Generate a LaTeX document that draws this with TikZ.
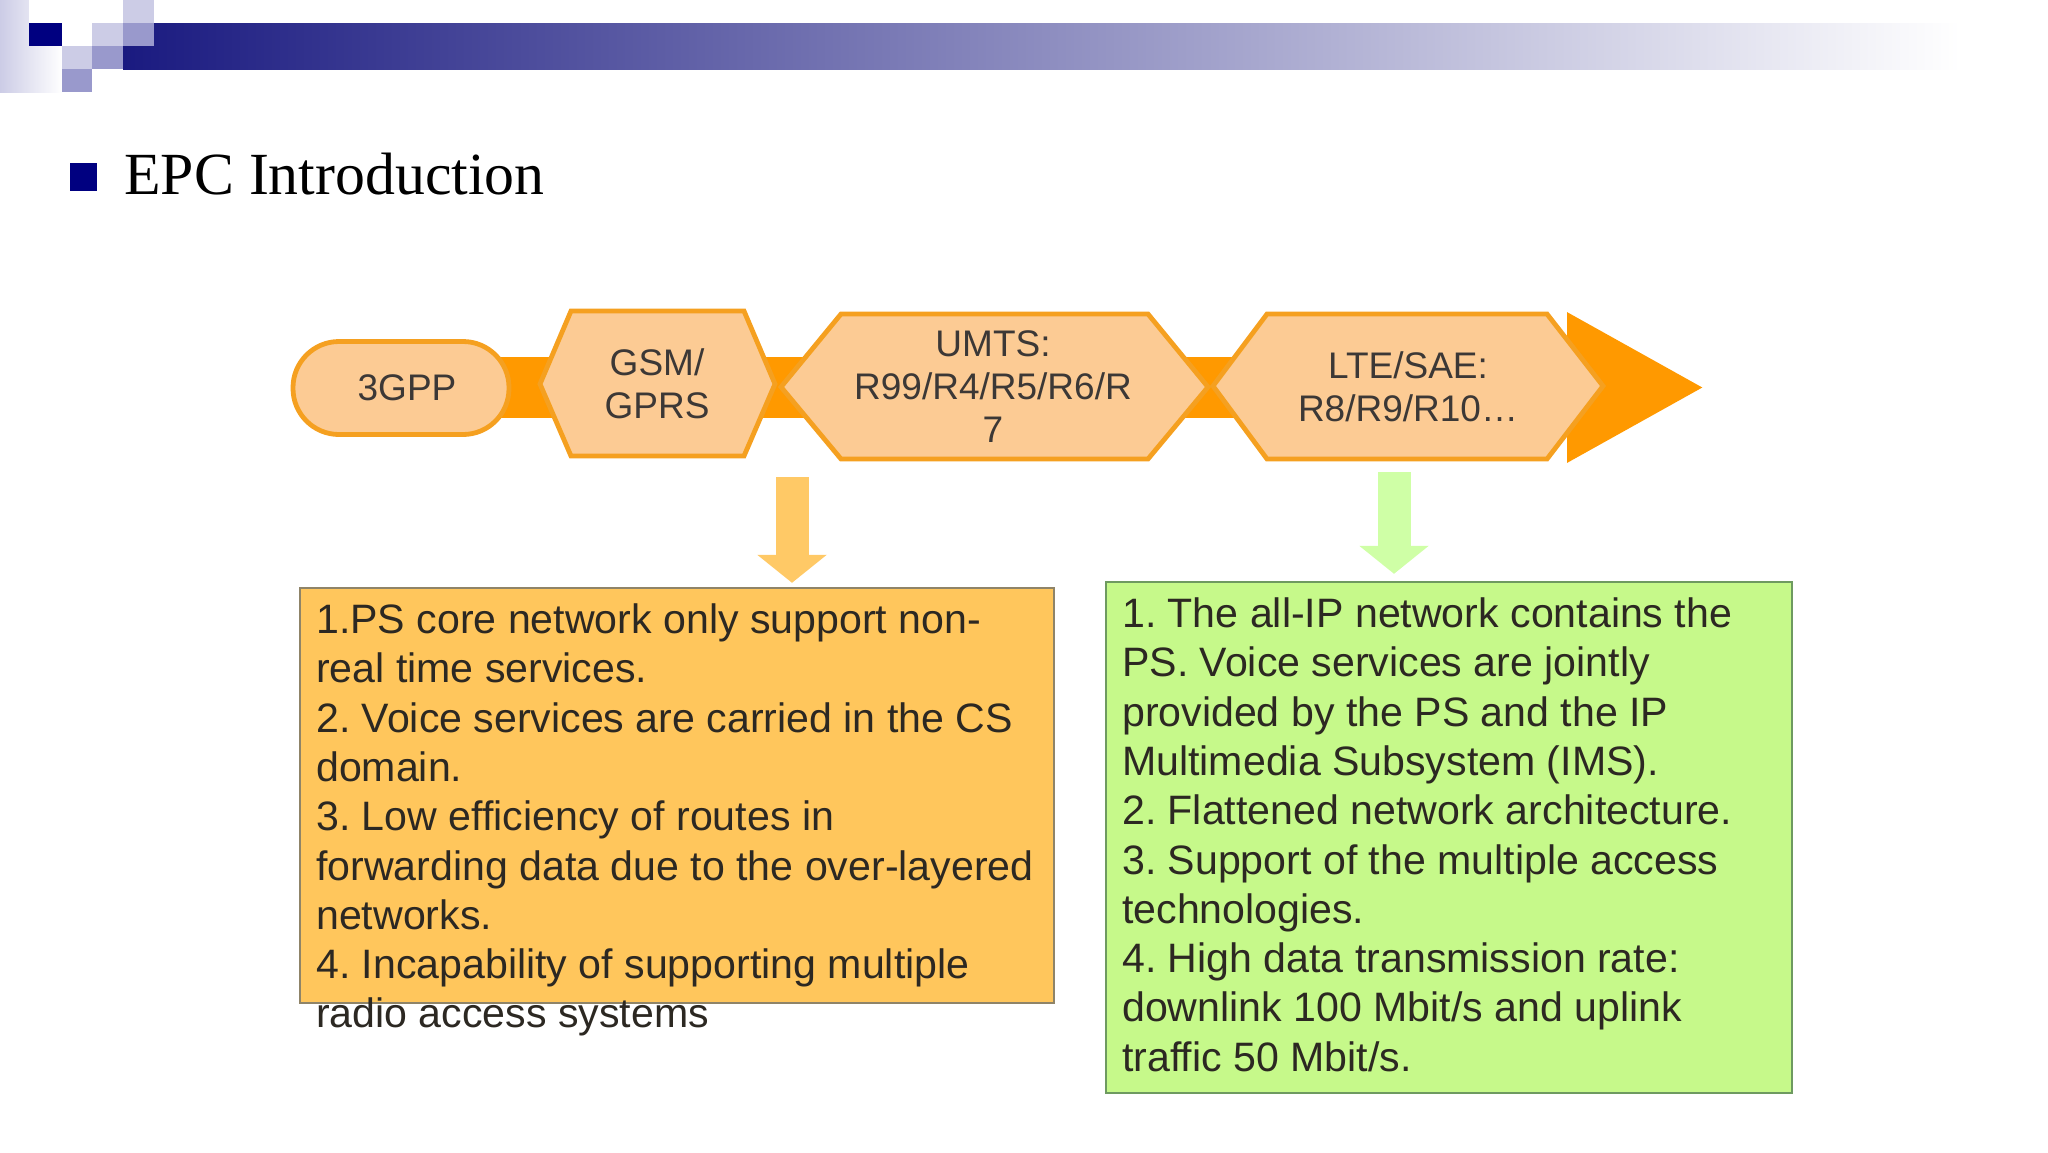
\documentclass[tikz,border=0pt]{standalone}
\usepackage{fontspec}
\setmainfont{Liberation Sans}
\newfontfamily\titlefont{Liberation Serif}
\usetikzlibrary{arrows.meta,positioning,calc}

\definecolor{navyblue}{HTML}{000080}
\definecolor{barstart}{HTML}{1A1A80}
\definecolor{barmid}{HTML}{ABABC6}
\definecolor{lightsq}{HTML}{CCCCE6}
\definecolor{midsq}{HTML}{9999CC}
\definecolor{bandorange}{HTML}{FF9900}
\definecolor{hexfill}{HTML}{FCCB94}
\definecolor{hexedge}{HTML}{F5A020}
\definecolor{labelgrey}{HTML}{3C3836}
\definecolor{bodygrey}{HTML}{2C2822}
\definecolor{orangefill}{HTML}{FFC65C}
\definecolor{orangeedge}{HTML}{8F8468}
\definecolor{orangearrow}{HTML}{FFC966}
\definecolor{greenfill}{HTML}{C6F98A}
\definecolor{greenedge}{HTML}{6E9A60}
\definecolor{greenarrow}{HTML}{CFFFA6}

\tikzset{
    hexline/.style={draw=hexedge, fill=hexfill, line width=2.4pt, line join=miter},
    hexlabel/.style={font=\fontsize{18.5}{21.5}\selectfont, text=labelgrey, align=center, inner sep=0pt},
    infobox/.style={rectangle, line width=1.2pt, inner sep=0pt},
    bodytext/.style={font=\fontsize{20.55}{24.65}\selectfont\frenchspacing, text=bodygrey, align=left, inner sep=0pt, anchor=north west},
    downarrow/.style={line width=16.5pt}
}

\begin{document}
\begin{tikzpicture}[x=0.5pt,y=-0.5pt]
    \useasboundingbox (0,0) rectangle (2048,1152);

    % Header
    \shade[left color=lightsq, right color=white] (0,0) rectangle (62,92);
    \shade[left color=barstart, middle color=barmid, right color=white] (123,23) rectangle (1960,69);
    \fill[white] (29,0) rectangle (62,23);
    \fill[navyblue] (29,23) rectangle (62,46);
    \foreach \xa/\ya/\xb/\yb/\col in {123/0/154/23/lightsq, 123/23/154/46/midsq, 92/23/123/46/lightsq,
                                     62/46/92/69/lightsq, 92/46/123/69/midsq, 62/69/92/92/midsq} {
        \fill[\col] (\xa,\ya) rectangle (\xb,\yb);
    }

    % Title
    \node[rectangle, fill=navyblue, minimum width=13.5pt, minimum height=14pt, inner sep=0pt] (bullet) at (83,177) {};
    \node[font=\titlefont\fontsize{29.9}{32}\selectfont, anchor=base west, inner sep=0pt] (title) at (124,194) {EPC Introduction};

    % Release band
    \coordinate (bandstart) at (440,387.5);
    \coordinate (bandtip) at (1705,387.5);
    \draw[bandorange, line width=30.5pt, -{Triangle[width=70pt,length=69pt]}] (bandstart) -- (bandtip);

    \node[draw=hexedge, fill=hexfill, line width=2.4pt, rounded corners=23pt, minimum width=108pt, minimum height=46.5pt,
          font=\fontsize{18.5}{21.5}\selectfont, text=labelgrey, inner sep=0pt] (tgpp) at (401,388) {\hspace*{6pt}3GPP};

    \foreach \name/\xl/\xa/\xb/\xr/\yt/\ym/\yb/\cx/\cy/\txt in {
        gsm/540/571/744/775/311/384/456/657/384/{GSM/\\GPRS},
        umts/781/841/1148/1208/314/387/459/993/387/{UMTS:\\R99/R4/R5/R6/R\\7},
        lte/1213/1267/1547/1603/314/386/459/1408/387/{LTE/SAE:\\R8/R9/R10…}} {
        \draw[hexline] (\xl,\ym) -- (\xa,\yt) -- (\xb,\yt) -- (\xr,\ym) -- (\xb,\yb) -- (\xa,\yb) -- cycle;
        \node[hexlabel] (\name) at (\cx,\cy) {\txt};
    }

    % Boxes
    \node[infobox, draw=orangeedge, fill=orangefill, minimum width=377pt, minimum height=207.5pt] (orangebox) at (677,795.5) {};
    \node[infobox, draw=greenedge, fill=greenfill, minimum width=343pt, minimum height=255.5pt] (greenbox) at (1449,837.5) {};

    % Arrows to the boxes
    \coordinate (orangestart) at (792,477);
    \coordinate (greenstart) at (1394,472);
    \draw[orangearrow, downarrow, shorten >=2pt, -{Triangle[width=34pt,length=14pt]}] (orangestart) -- (orangestart |- orangebox.north);
    \draw[greenarrow, downarrow, shorten >=3.5pt, -{Triangle[width=34pt,length=14pt]}] (greenstart) -- (greenstart |- greenbox.north);

    % Box texts
    \node[bodytext] (orangetext) at ([shift={(17,16.5)}]orangebox.north west) {1.PS core network only support non-\\
        real time services.\\
        2. Voice services are carried in the CS\\
        domain.\\
        3. Low efficiency of routes in\\
        forwarding data due to the over-layered\\
        networks.\\
        4. Incapability of supporting multiple\\
        radio access systems};
    \node[bodytext] (greentext) at ([shift={(17,16.5)}]greenbox.north west) {1. The all-IP network contains the\\
        PS. Voice services are jointly\\
        provided by the PS and the IP\\
        Multimedia Subsystem (IMS).\\
        2. Flattened network architecture.\\
        3. Support of the multiple access\\
        technologies.\\
        4. High data transmission rate:\\
        downlink 100 Mbit/s and uplink\\
        traffic 50 Mbit/s.};
\end{tikzpicture}
\end{document}
